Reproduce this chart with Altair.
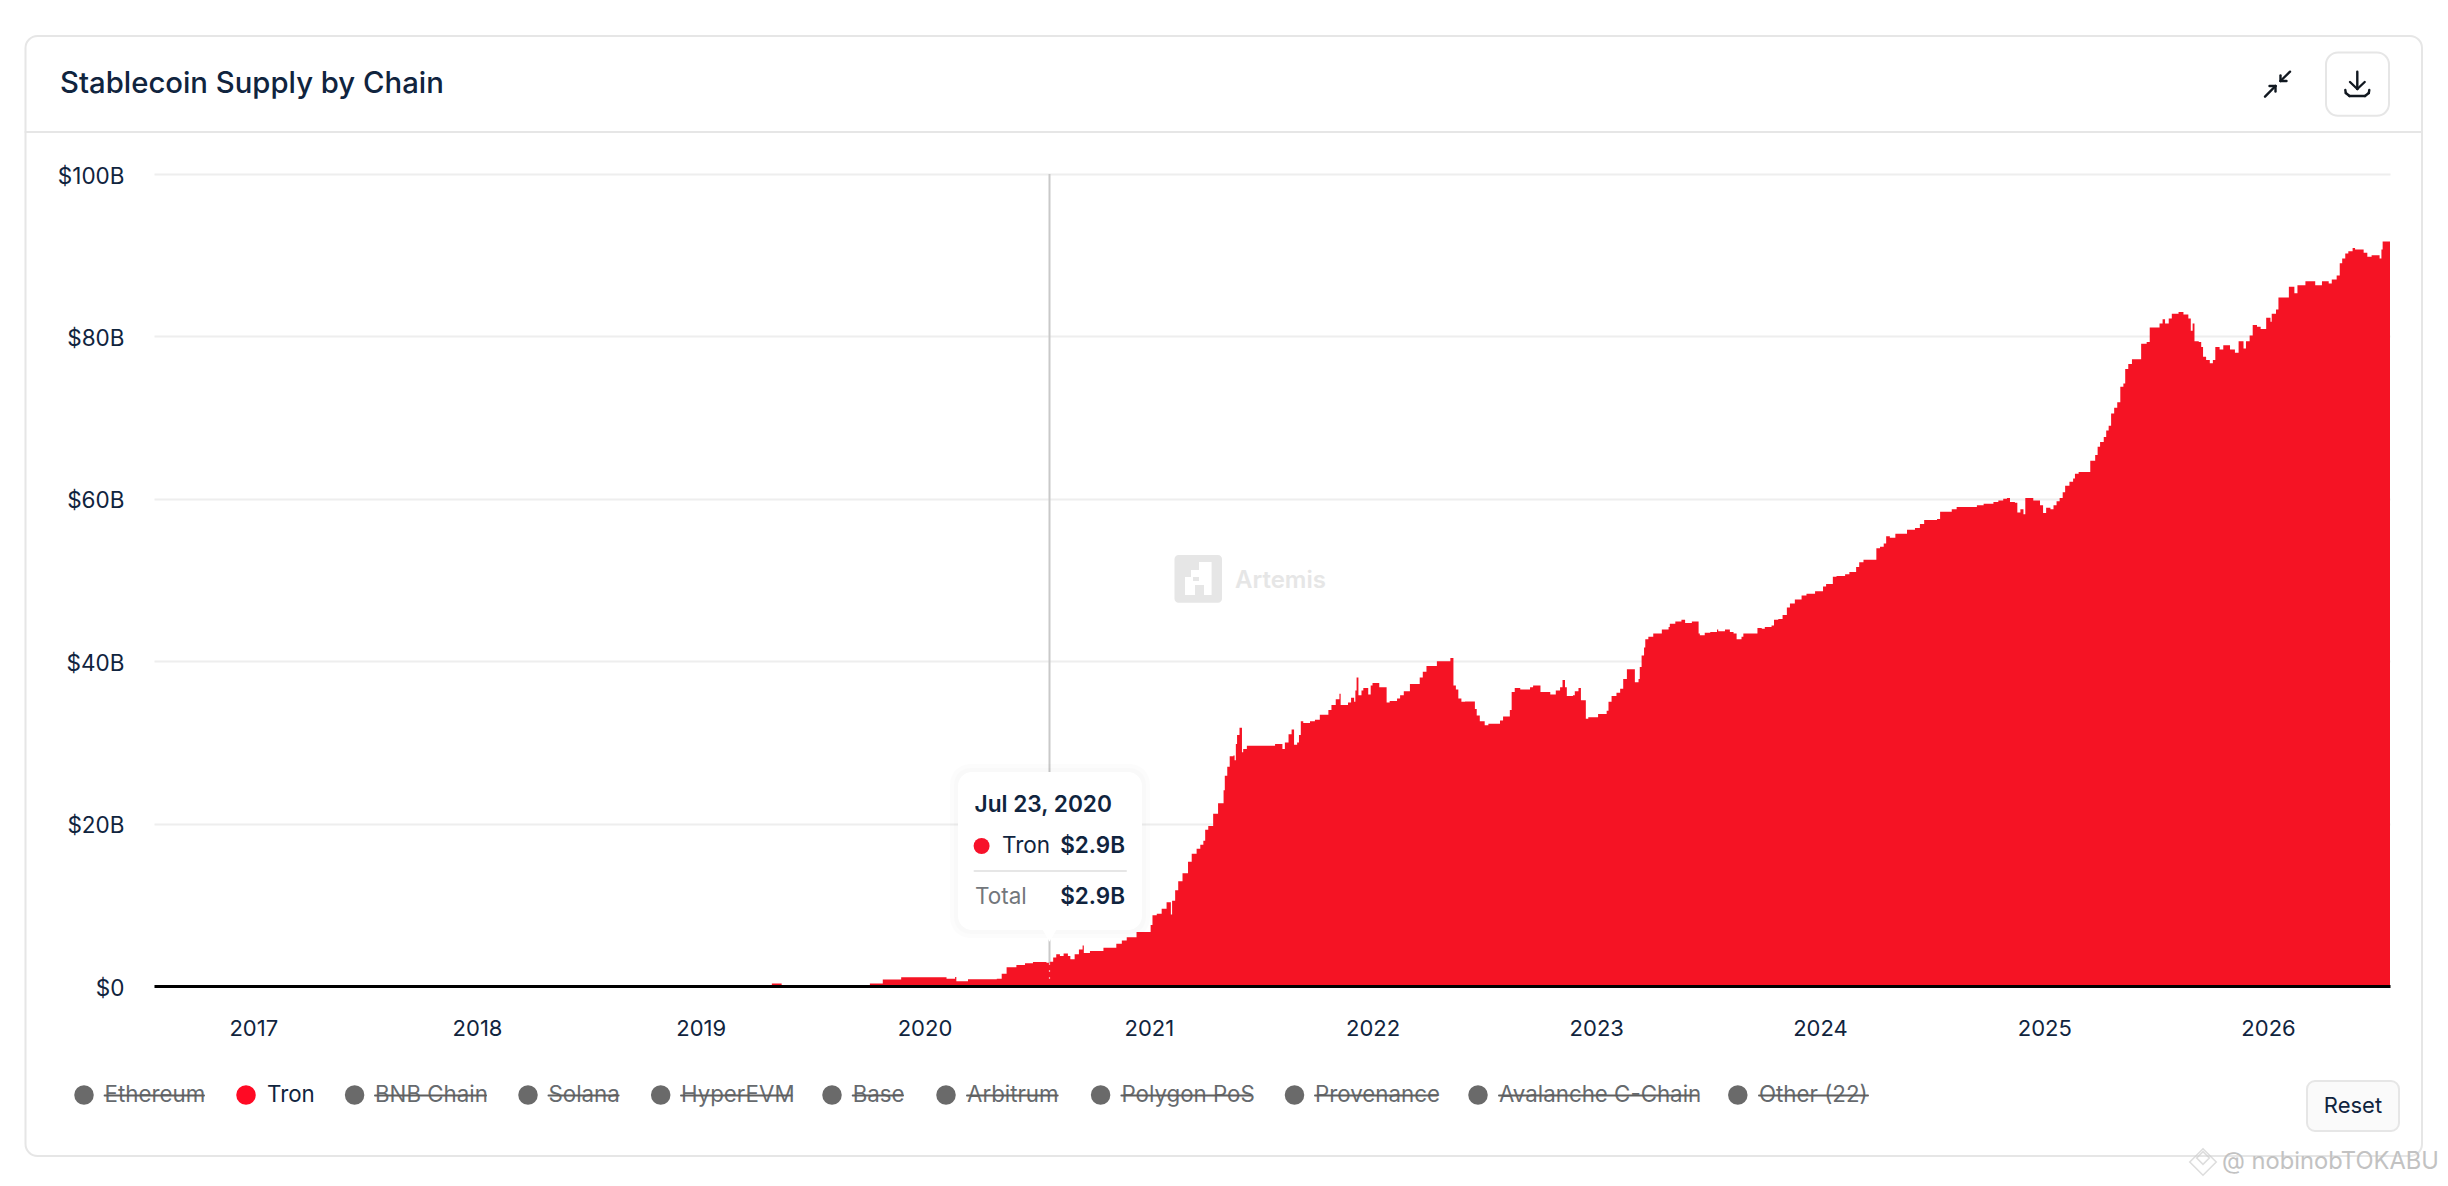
import altair as alt
import pandas as pd

TITLE = "Stablecoin Supply by Chain"
RED = "#f51324"
INK = "#10243e"
LINE = "#e6e6e6"
GREY = "#666a6e"
FONT = "Inter"

# Tron stablecoin supply: days counted from 2019-10-01 and $B from there on
days = [-1165, -157, -141, 3, 24, 54, 128, 142, 144, 163, 210, 218, 226, 242, 256, 269, 291, 297, 302, 307, 313, 319, 326, 330, 337, 344, 350, 352, 362, 384, 405, 414, 422, 438, 461, 464, 471, 479, 487, 494, 496, 501, 506, 513, 522, 528, 536, 542, 547, 550, 555, 563, 571, 580,
        582, 586, 590, 596, 598, 600, 602, 606, 610, 612, 618, 664, 676, 680, 686, 691, 695, 700, 703, 706, 710, 721, 729, 737, 751, 756, 763, 769, 771, 783, 788, 793, 795, 797, 800, 805, 808, 816, 820, 823, 834, 846, 851, 863, 868, 874, 884, 900, 905, 911, 928, 950, 955, 959, 963, 968, 974, 990, 993, 998, 1006, 1012, 1031, 1036, 1047, 1050, 1055, 1064, 1080, 1085, 1097, 1113, 1122, 1129, 1133, 1137, 1140, 1150, 1153, 1159, 1163, 1171, 1175, 1191, 1205, 1208, 1213, 1221, 1227, 1232, 1238, 1251, 1257, 1259,
        1262, 1266, 1268, 1273, 1281, 1295, 1306, 1308, 1317, 1327, 1333, 1344, 1355, 1357, 1365, 1374, 1385, 1387, 1398, 1406, 1412, 1417, 1425, 1428, 1451, 1458, 1463, 1474, 1478, 1485, 1492, 1499, 1504, 1512, 1523, 1531, 1545, 1558, 1563, 1574, 1580, 1594, 1601, 1612, 1617, 1624, 1645, 1651, 1657, 1661, 1667, 1676, 1695, 1708, 1716, 1723, 1744, 1749, 1768, 1776, 1809, 1820, 1836, 1844, 1852, 1858, 1863, 1871, 1875, 1880, 1885, 1888,
        1901, 1912, 1917, 1922, 1929, 1934, 1939, 1944, 1949, 1953, 1960, 1966, 1969, 1975, 1994, 2002, 2006, 2010, 2016, 2020, 2024, 2028, 2033, 2038, 2043, 2048, 2051, 2056, 2062, 2077, 2086, 2091, 2107, 2112, 2116, 2122, 2127, 2138, 2146, 2154, 2158, 2161, 2164, 2171, 2175, 2178, 2183, 2189, 2194, 2198, 2205, 2211, 2222, 2230, 2236, 2244, 2248, 2254, 2259, 2266, 2272, 2281, 2288, 2290, 2297, 2301, 2318, 2327, 2332, 2345, 2361, 2372, 2383, 2388, 2396, 2401, 2405, 2410, 2415, 2422, 2426, 2440, 2446, 2453, 2466, 2469, 2471, 2483]
supply_b = [0, 0.3, 0, 0.3, 0.8, 1.07, 0.9, 1.1, 0.57, 0.82, 0.9, 1.5, 2.3, 2.6, 2.8, 2.95, 2.87, 3.0, 3.5, 3.9, 3.7, 4.0, 3.7, 3.3, 3.9, 4.5, 5.0, 4.05, 4.3, 4.7, 5.2, 5.6, 6.0, 6.65, 7.5, 8.7, 8.9, 9.5, 10.3, 8.8, 10.5, 11.8, 12.9, 13.9, 15.3, 16.3, 16.9, 17.4, 17.9, 19.25, 19.7, 21.2, 22.5, 24.1,
            25.9, 27, 28.3, 28.4, 27.8, 29.8, 30.9, 31.8, 28.8, 29.2, 29.6, 29.8, 29.2, 30, 31, 31.6, 29.7, 30, 30.9, 32.6, 32.4, 32.6, 32.8, 33.4, 34, 34.6, 35.3, 36, 34.6, 34.9, 35.5, 35, 36.4, 38, 35.8, 36.4, 36.7, 35.9, 37, 37.3, 36.8, 34.9, 35.1, 35.4, 35.8, 36.3, 37.2, 38, 38.7, 39.4, 40, 40.4, 37, 36.5, 35.4, 35, 35.05, 34.1, 33.3, 32.6, 32.1, 32.3, 32.7, 33.2, 34, 36.2, 36.7, 36.5, 36.8, 37, 36.2, 35.9, 36.4, 36.8, 37.7, 36.8, 35.7, 35.8, 36.3, 36.7, 35.2, 32.9, 33.1, 33.5, 33.9, 35, 35.7, 36.1, 36.6, 37.8, 39, 37.4, 37.8, 39.3,
            40.7, 41.7, 42.7, 43, 43.4, 43.9, 44.2, 44.6, 44.9, 45.1, 44.7, 44.9, 43.4, 43.2, 43.5, 43.6, 43.9, 43.7, 43.9, 43.6, 43.4, 42.7, 43, 43.4, 44.1, 44, 44.2, 44.4, 45.1, 45.2, 45.7, 46.6, 47.1, 47.6, 48.1, 48.3, 48.6, 49.2, 49.5, 50.4, 50.5, 50.7, 51, 51.6, 52.2, 52.5, 53.9, 54.1, 54.5, 55.4, 55.2, 55.7, 56.2, 56.4, 56.9, 57.4, 57.5, 58.4, 58.7, 59, 59.2, 59.4, 59.6, 59.8, 60, 60.1, 59.6, 59.5, 58.3, 58.7, 58.1, 60.1,
            59.8, 59.2, 58.25, 58.9, 58.7, 59.2, 59.7, 60.1, 60.8, 61.6, 62.1, 62.5, 63.1, 63.3, 64.7, 65.4, 66.4, 67, 67.6, 68.4, 69, 70.5, 71.2, 71.9, 73.8, 74.2, 76, 76.6, 77.2, 79.1, 79.3, 81.1, 81.6, 82.1, 81.6, 82.2, 82.8, 83, 82.7, 82.2, 80.7, 81.6, 79.4, 79.3, 78.7, 77.5, 77.1, 76.7, 77.1, 78.7, 78.4, 78.9, 78.4, 78, 79.4, 78.5, 79.4, 80.1, 81.4, 81.2, 80.9, 82.3, 81.8, 82.8, 83.3, 84.8, 86.1, 85.3, 86.3, 86.8, 86.3, 86.8, 86.5, 87, 87.5, 89, 89.6, 90.2, 90.5, 90.9, 90.7, 90.3, 89.8, 90, 89.6, 90.7, 91.7, 91.7]

year_ticks = [2017, 2018, 2019, 2020, 2021, 2022, 2023, 2024, 2025, 2026]
y_ticks = [0, 20, 40, 60, 80, 100]
legend_names = ["Ethereum", "Tron", "BNB Chain", "Solana", "HyperEVM", "Base", "Arbitrum", "Polygon PoS", "Provenance", "Avalanche C-Chain", "Other (22)"]
legend_active = [False, True, False, False, False, False, False, False, False, False, False]
tooltip_date = "Jul 23, 2020"
tooltip_series = "Tron"
tooltip_value = "$2.9B"
tooltip_total_label = "Total"
tooltip_total = "$2.9B"

# page layout (chrome only)
L, T, W, H = 154, 174, 2236, 812
legend_dot_x = [84, 246, 354.6, 528, 660.7, 832, 946, 1100.6, 1294.5, 1478, 1737.8]
legend_text_x = [104.6, 267, 375, 548.5, 681, 852.7, 967, 1121.4, 1315, 1499, 1759]
legend_text_end = [204, 312.5, 486, 618.6, 791.5, 903, 1057.7, 1251, 1437, 1697, 1868]

base = alt.Chart(pd.DataFrame({"i": [0]}))
def X(v): return alt.value(v - L)
def Y(v): return alt.value(v - T)

def box(x0, x1, y0, y1, **kw):
    return base.mark_rect(**kw).encode(x=X(x0), x2=X(x1), y=Y(y0), y2=Y(y1))
def seg(x0, y0, x1, y1, color=INK, w=2.0, **kw):
    return base.mark_rule(color=color, strokeWidth=w, strokeCap="round", **kw).encode(x=X(x0), x2=X(x1), y=Y(y0), y2=Y(y1))
def txt(s, x, y, size=22.3, color=INK, align="left", weight=400, **kw):
    return base.mark_text(text=s, font=FONT, fontSize=size, color=color, align=align, baseline="middle", fontWeight=weight, **kw).encode(x=X(x), y=Y(y))
def dot(x, y, d, color):
    return base.mark_circle(size=d * d, color=color, opacity=1).encode(x=X(x), y=Y(y))

under = []
# card and header
under.append(box(25.5, 2422, 36, 1156, fill="transparent", stroke=LINE, strokeWidth=2, cornerRadius=12))
under.append(seg(25.5, 132, 2422, 132, LINE, 2, ))
under.append(txt(TITLE, 60, 84, size=29.3, weight=500))
# shrink icon
ic = "#111820"
for a in [(2265, 96.7, 2275.5, 86), (2275.5, 86, 2269.5, 86), (2275.5, 86, 2275.5, 91.5),
          (2290, 71.7, 2280.5, 81), (2280.5, 81, 2280.5, 75.5), (2280.5, 81, 2286.5, 81)]:
    under.append(seg(*a, color=ic, w=2.4))
# download icon
under.append(box(2326, 2389, 52.5, 115.7, fill="white", stroke=LINE, strokeWidth=2, cornerRadius=12))
for a in [(2357.3, 71.7, 2357.3, 89), (2357.3, 89, 2350, 82), (2357.3, 89, 2364.7, 82),
          (2345.3, 90, 2345.8, 93), (2345.8, 93, 2349.5, 96), (2349.5, 96, 2365, 96), (2365, 96, 2368.8, 93), (2368.8, 93, 2369.3, 90)]:
    under.append(seg(*a, color=ic, w=2.4))
# Artemis watermark
wm = "#e6e6e6"
under.append(box(1174.5, 1222, 555, 602.7, fill=wm, cornerRadius=4))
under.append(box(1185, 1211.6, 577, 595, fill="white"))
under.append(box(1199, 1211.6, 562, 577, fill="white"))
under.append(box(1191, 1199, 570, 577, fill="white"))
under.append(box(1195, 1204, 585, 595, fill=wm))
under.append(box(1193, 1199, 577, 581, fill=wm))
under.append(txt("Artemis", 1235, 580.5, size=24, color=wm, weight=600))
# hover rule
under.append(base.mark_rule(color="#c9c9c9", strokeWidth=2).encode(x=X(1049.5), y=Y(174), y2=Y(975)))

table = pd.DataFrame({
    "date": [(pd.Timestamp("2019-10-01") + pd.Timedelta(days=d)).strftime("%Y-%m-%d") for d in days],
    "supply": supply_b,
})
area = alt.Chart(table).mark_area(interpolate="step-after", color=RED, opacity=1).encode(
    x=alt.X("date:T", title=None,
            scale=alt.Scale(type="utc", domain=[alt.DateTime(year=2016, month=7, date=23, utc=True),
                                                alt.DateTime(year=2026, month=7, date=19, utc=True)]),
            axis=alt.Axis(values=[alt.DateTime(year=y, month=1, date=1, utc=True) for y in year_ticks],
                          format="%Y", grid=False, ticks=False, domain=True, domainColor="black", domainWidth=3,
                          labelFont=FONT, labelFontSize=22, labelColor=INK, labelPadding=32, labelFlush=False,
                          labelOverlap=False, zindex=1)),
    y=alt.Y("supply:Q", title=None, scale=alt.Scale(domain=[0, 100], nice=False),
            axis=alt.Axis(values=y_ticks, labelExpr="datum.value == 0 ? '$0' : '$' + datum.value + 'B'",
                          grid=True, gridColor="#eeeeee", gridWidth=2, ticks=False, domain=False,
                          labelFont=FONT, labelFontSize=22.5, labelColor=INK, labelPadding=30, labelOffset=2, zindex=0)),
)

over = []
over.append(base.mark_rule(color="#f8a5ac", strokeWidth=1.2, strokeDash=[2, 5]).encode(x=X(1049.5), y=Y(963), y2=Y(984)))
# tooltip
over.append(box(950, 1150, 764, 938, fill="black", opacity=0.012, cornerRadius=20))
over.append(box(954, 1146, 768, 934, fill="black", opacity=0.012, cornerRadius=16))
over.append(box(958, 1142, 772, 930, fill="white", cornerRadius=14))
over.append(base.mark_point(shape="triangle-down", filled=True, color="white", size=576, opacity=1).encode(x=X(1049.5), y=Y(931.3)))
over.append(txt(tooltip_date, 974.5, 804.5, size=22.7, weight=600))
over.append(dot(981.6, 846, 16, "#f7112a"))
over.append(txt(tooltip_series, 1002, 846, size=22.5))
over.append(txt(tooltip_value, 1125, 846, size=22.5, weight=600, align="right"))
over.append(seg(974.5, 871, 1126, 871, LINE, 2, ))
over.append(txt(tooltip_total_label, 975, 896.5, size=22.5, color="#73777c"))
over.append(txt(tooltip_total, 1125, 896.5, size=22.5, weight=600, align="right"))
# legend
for name, on, dx, tx, te in zip(legend_names, legend_active, legend_dot_x, legend_text_x, legend_text_end):
    over.append(dot(dx, 1095, 19.5, "#ff0a24" if on else "#6a6a6a"))
    over.append(txt(name, tx, 1095, size=22.3, color=INK if on else GREY))
    if not on:
        over.append(seg(tx, 1095.5, te, 1095.5, "#5f5f5f", 2))
# reset button
over.append(box(2307, 2399, 1081, 1131, fill="#fafafa", stroke=LINE, strokeWidth=2, cornerRadius=8))
over.append(txt("Reset", 2353, 1106, size=22, align="center"))
# credit
over.append(base.mark_point(shape="diamond", color="#cfcfcf", size=700, strokeWidth=1.5).encode(x=X(2203), y=Y(1162)))
over.append(base.mark_point(shape="diamond", color="#cfcfcf", size=160, strokeWidth=1.5).encode(x=X(2203), y=Y(1158)))
over.append(txt("@ nobinobTOKABU", 2222, 1162, size=23.7, color="#c2c2c2"))

chart = alt.layer(*under, area, *over).properties(
    width=W, height=H,
    padding={"left": L - 8, "top": T - 8, "right": 50, "bottom": 192},
    autosize=alt.AutoSizeParams(type="none"),
    background="white",
).configure_view(stroke=None)

chart.save("out.html", embed_options={"renderer": "svg", "actions": False})
